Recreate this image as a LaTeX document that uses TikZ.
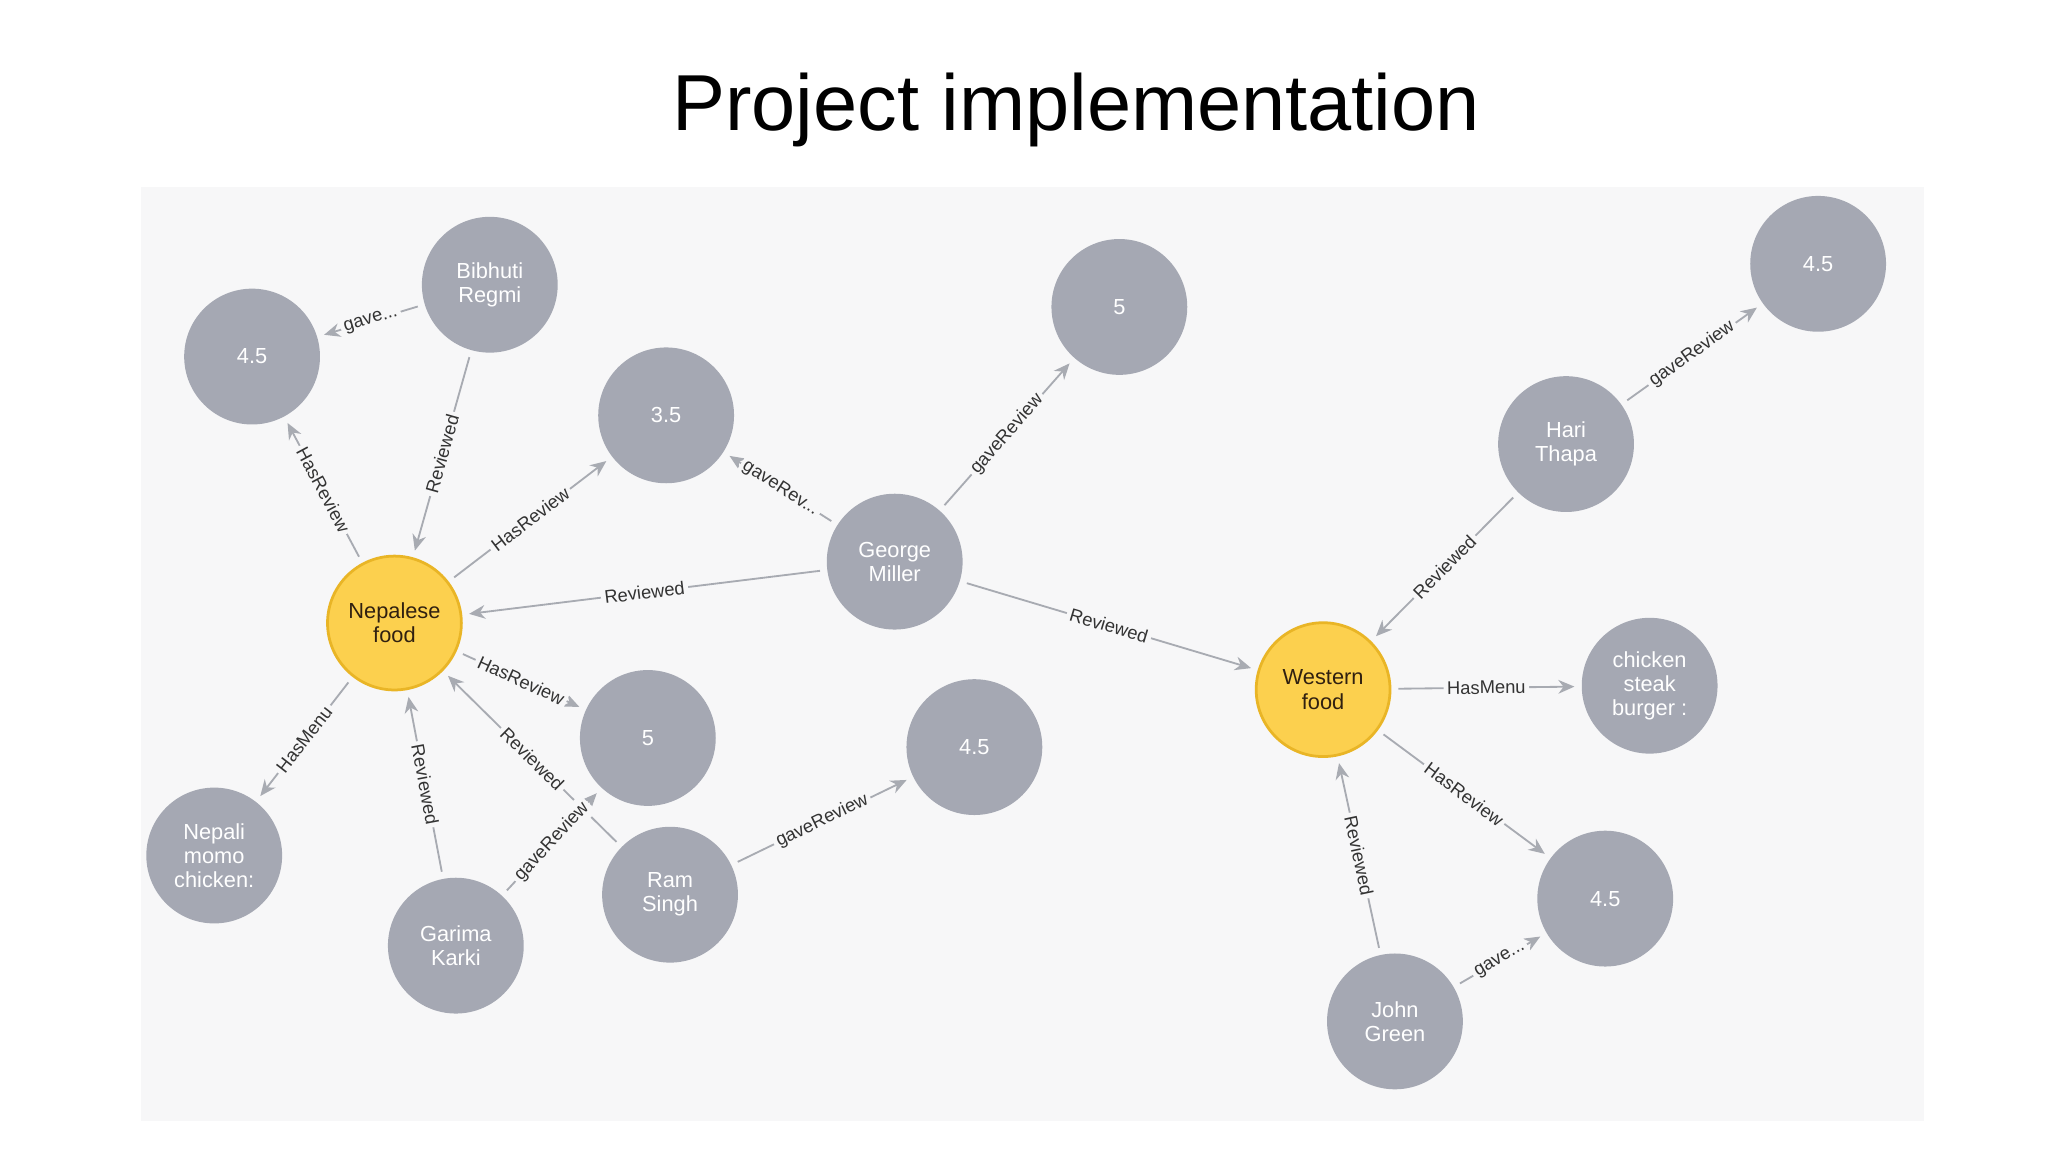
\documentclass[tikz,border=0pt]{standalone}
\usepackage{fontspec}
\setmainfont{Liberation Sans}
\usetikzlibrary{arrows.meta}
\definecolor{bgc}{HTML}{F7F7F8}
\definecolor{nodec}{HTML}{A5A8B3}
\definecolor{yel}{HTML}{FCD04E}
\definecolor{yelb}{HTML}{E9B526}
\definecolor{edgec}{HTML}{A8ABB2}
\begin{document}
\begin{tikzpicture}[x=0.02cm,y=-0.02cm,
  gnode/.style={circle,fill=nodec,minimum size=2.08cm,inner sep=0pt,text=white,font=\fontsize{9.5}{10.5}\selectfont,align=center},
  ynode/.style={circle,fill=yel,draw=yelb,line width=1.2pt,minimum size=2.05cm,inner sep=0pt,text={black!75!brown},font=\fontsize{9.5}{10.5}\selectfont,align=center},
  rel/.style={draw=edgec,line width=0.8pt,-{Stealth[length=7pt,width=6pt]},shorten >=3pt,shorten <=3pt},
  lbl/.style={midway,sloped,fill=bgc,inner sep=1.5pt,text=black!80,font=\fontsize{8}{9}\selectfont}]
\useasboundingbox (0,0) rectangle (1568,882);
\fill[white] (0,0) rectangle (1568,882);
\fill[bgc] (108,143) rectangle (1473,858);
\node (title) at (824,84) {\fontsize{34.6}{38}\selectfont Project implementation};

\node[ynode] (nep) at (302,477) {Nepalese\\food};
\node[gnode] (bib) at (375,218) {Bibhuti\\Regmi};
\node[gnode] (r1) at (193,273) {4.5};
\node[gnode] (r2) at (510,318) {3.5};
\node[gnode] (geo) at (685,430) {George\\Miller};
\node[gnode] (r3) at (857,235) {5};
\node[gnode] (r4) at (496,565) {5};
\node[gnode] (r5) at (746,572) {4.5};
\node[gnode] (momo) at (164,655) {Nepali\\momo\\chicken:};
\node[gnode] (gar) at (349,724) {Garima\\Karki};
\node[gnode] (ram) at (513,685) {Ram\\Singh};
\node[ynode] (wes) at (1013,528) {Western\\food};
\node[gnode] (hari) at (1199,340) {Hari\\Thapa};
\node[gnode] (r6) at (1392,202) {4.5};
\node[gnode] (burg) at (1263,525) {chicken\\steak\\burger :};
\node[gnode] (r7) at (1229,688) {4.5};
\node[gnode] (john) at (1068,782) {John\\Green};

\draw[rel] (bib) -- node[lbl]{gave...} (r1);
\draw[rel] (bib) -- node[lbl]{Reviewed} (nep);
\draw[rel] (nep) -- node[lbl]{HasReview} (r1);
\draw[rel] (nep) -- node[lbl]{HasReview} (r2);
\draw[rel] (geo) -- node[lbl]{gaveRev...} (r2);
\draw[rel] (geo) -- node[lbl]{gaveReview} (r3);
\draw[rel] (geo) -- node[lbl]{Reviewed} (nep);
\draw[rel] (geo) -- node[lbl]{Reviewed} (wes);
\draw[rel] (nep) -- node[lbl]{HasReview} (r4);
\draw[rel] (ram) -- node[lbl]{Reviewed} (nep);
\draw[rel] (nep) -- node[lbl]{HasMenu} (momo);
\draw[rel] (gar) -- node[lbl]{Reviewed} (nep);
\draw[rel] (gar) -- node[lbl]{gaveReview} (r4);
\draw[rel] (ram) -- node[lbl]{gaveReview} (r5);
\draw[rel] (hari) -- node[lbl]{gaveReview} (r6);
\draw[rel] (hari) -- node[lbl]{Reviewed} (wes);
\draw[rel] (wes) -- node[lbl]{HasMenu} (burg);
\draw[rel] (wes) -- node[lbl]{HasReview} (r7);
\draw[rel] (john) -- node[lbl]{Reviewed} (wes);
\draw[rel] (john) -- node[lbl]{gave...} (r7);
\end{tikzpicture}
\end{document}
